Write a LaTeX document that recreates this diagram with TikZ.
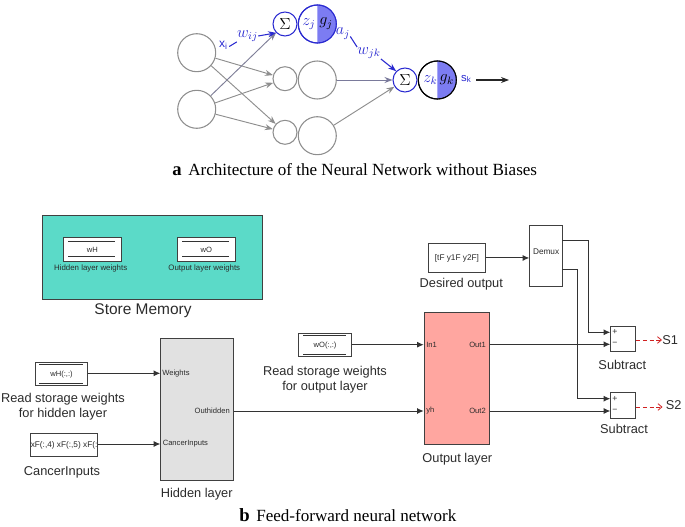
\documentclass[tikz,border=0pt]{standalone}
\usepackage{fontspec}
\setmainfont{Liberation Sans}
\newfontfamily\capfont{Liberation Serif}
\usetikzlibrary{arrows.meta}
\definecolor{netblue}{HTML}{2A2AD0}
\definecolor{halfblue}{HTML}{7C7CF2}
\definecolor{netgrey}{HTML}{8E8E8E}
\definecolor{teal}{HTML}{5BDAC8}
\definecolor{salmon}{HTML}{FFA6A0}
\definecolor{greyblock}{HTML}{E1E1E1}
\definecolor{txt}{HTML}{2B2B2B}
\definecolor{dred}{HTML}{D02020}
\tikzset{
  x=0.75pt,y=-0.75pt,
  neuron/.style={circle,draw=netgrey,line width=0.8pt,fill=white,inner sep=0,minimum size=38*0.75pt},
  summer/.style={circle,draw=netgrey,line width=0.8pt,fill=white,inner sep=0,minimum size=24*0.75pt,font=\large},
  synapse/.style={draw=netgrey,line width=0.7pt,-{Stealth[length=6pt,width=4.5pt]}},
  bluearrow/.style={draw=netblue,line width=0.8pt,-{Stealth[length=6pt,width=4.5pt]}},
  bluelab/.style={text=netblue,inner sep=0},
  mathlab/.style={font=\fontsize{11.5}{13}\selectfont},
  block/.style={draw=black!75,line width=0.7pt,inner sep=0,anchor=north west},
  wire/.style={draw=black!80,line width=0.7pt},
  sig/.style={wire,-{Latex[length=5pt,width=4.5pt]}},
  tiny/.style={font=\fontsize{5.7}{6.5}\selectfont,text=txt,inner sep=0},
  lab/.style={font=\fontsize{9.6}{11.5}\selectfont,text=txt,inner sep=0,align=center},
  caption/.style={font=\capfont\fontsize{12.8}{14}\selectfont,text=black,inner sep=0,anchor=west},
}
\begin{document}
\begin{tikzpicture}
\useasboundingbox (0,0) rectangle (685,527);
% ---- part a
\node[neuron] (i1) at (196.7,52.7) {};
\node[neuron] (i2) at (196.7,109.3) {};
\node[summer,draw=netblue] (s1) at (285,24) {$\Sigma$};
\node[neuron,draw=netblue] (g1) at (317.3,24) {};
\node[summer] (s2) at (285,78.7) {};
\node[neuron] (g2) at (317.3,80) {};
\node[summer] (s3) at (285,132.3) {};
\node[neuron] (g3) at (317.3,135.7) {};
\node[summer,draw=netblue] (s4) at (405,80) {$\Sigma$};
\node[neuron,draw=black] (g4) at (437.3,80) {};
\fill[halfblue] (g1.north) arc (-90:90:19) -- cycle;
\draw[netblue,line width=0.8pt] (g1) circle (19);
\fill[halfblue] (g4.north) arc (-90:90:19) -- cycle;
\draw[black,line width=0.8pt] (g4) circle (19);
\node[bluelab,mathlab] at (309,24) {$z_j$};
\node[mathlab,inner sep=0] at (326,23.5) {$g_j$};
\node[bluelab,mathlab] at (430.5,80) {$z_k$};
\node[mathlab,inner sep=0] at (446.7,80) {$g_k$};
\draw[synapse] (i1) -- (s2);
\draw[synapse] (i1) -- (s3);
\draw[synapse,draw=netgrey!85!netblue] (i2) -- (s1);
\draw[synapse] (i2) -- (s2);
\draw[synapse] (i2) -- (s3);
\draw[synapse,draw=netgrey!80!netblue] (g2) -- (s4);
\draw[synapse] (g3) -- (s4);
\node[bluelab,font=\fontsize{9}{10}\selectfont] (xi) at (223,45.5) {x\raisebox{-1pt}{\fontsize{6.5}{7}\selectfont i}};
\node[bluelab,mathlab] (wij) at (247.5,36) {$w_{ij}$};
\node[bluelab,mathlab] (aj) at (343,33.5) {$a_j$};
\node[bluelab,mathlab] (wjk) at (369,53) {$w_{jk}$};
\node[bluelab,font=\fontsize{8.5}{10}\selectfont] (sk) at (466,79) {s\raisebox{-0.5pt}{\fontsize{6}{7}\selectfont k}};
\coordinate (skend) at (509,80);
\draw[netblue,line width=0.8pt] (xi.east) ++(2,1) -- (wij.south west);
\draw[bluearrow] (wij.east) -- (s1.south west);
\draw[netblue,line width=0.8pt] (aj.east) ++(0,3) -- (wjk.north west);
\draw[bluearrow] (wjk.south east) -- (s4.north west);
\draw[line width=0.8pt,draw=black!85,-{Stealth[length=6pt,width=4.5pt]}] (sk.east) ++(5,1) -- (skend);
\node[caption] at (172,170) {\textbf{\fontsize{14}{14}\selectfont a}\hspace{5pt}Architecture of the Neural Network without Biases};
% ---- store memory
\node[block,fill=teal,minimum width=219.4*0.75pt,minimum height=84.3*0.75pt] (store) at (42.3,215) {};
\node[block,fill=white,minimum width=58.6*0.75pt,minimum height=24.6*0.75pt,tiny] (wH) at (62.7,236.7) {wH};
\node[block,fill=white,minimum width=58.3*0.75pt,minimum height=24.6*0.75pt,tiny] (wO) at (176.7,236.7) {wO};
\draw[wire] (68,241.3) -- (115,241.3) (68,256.3) -- (115,256.3);
\draw[wire] (182,241.3) -- (229,241.3) (182,256.3) -- (229,256.3);
\node[tiny,font=\fontsize{5.9}{6.5}\selectfont] at (90.7,268.3) {Hidden layer weights};
\node[tiny,font=\fontsize{5.9}{6.5}\selectfont] at (204.3,268.3) {Output layer weights};
\node[lab,font=\fontsize{11.6}{13}\selectfont] at (143,311) {Store Memory};
% ---- blocks
\node[block,fill=greyblock,minimum width=73*0.75pt,minimum height=141.7*0.75pt] (hid) at (160.3,338.3) {};
\node[block,fill=salmon,minimum width=65.3*0.75pt,minimum height=132.6*0.75pt] (out) at (423.7,311.7) {};
\node[block,fill=white,minimum width=52.6*0.75pt,minimum height=23.4*0.75pt,tiny] (rH) at (34.7,362) {wH(:,:)};
\draw[wire] (39,364.4) -- (83,364.4) (39,383) -- (83,383);
\node[block,fill=white,minimum width=65.4*0.75pt,minimum height=23.6*0.75pt,tiny,font=\fontsize{6.2}{7}\selectfont] (cin) at (30.3,432.7) {xF(:,4) xF(:,5) xF(:};
\node[block,fill=white,minimum width=52.7*0.75pt,minimum height=23*0.75pt,tiny] (rO) at (298.3,333.3) {wO(:,:)};
\draw[wire] (303,335.5) -- (346,335.5) (303,354.2) -- (346,354.2);
\node[block,fill=white,minimum width=57*0.75pt,minimum height=29.6*0.75pt,tiny,font=\fontsize{6.2}{7}\selectfont] (des) at (428,242.7) {[tF y1F y2F]};
\node[block,fill=white,minimum width=32.7*0.75pt,minimum height=60.4*0.75pt,tiny,font=\fontsize{6.2}{7}\selectfont] (dem) at (529.3,225.3) {\raisebox{7pt}{Demux}};
\node[block,fill=white,minimum width=25*0.75pt,minimum height=25.6*0.75pt] (sub1) at (610.3,325.7) {};
\node[block,fill=white,minimum width=25*0.75pt,minimum height=25.4*0.75pt] (sub2) at (610.3,392.3) {};
% ---- ports
\node[tiny,anchor=west] (pW) at (162,373.3) {Weights};
\node[tiny,anchor=west] (pC) at (162.5,444) {CancerInputs};
\node[tiny,anchor=east] (pO) at (230,411) {Outhidden};
\node[tiny,anchor=west] (pI) at (426,344.7) {In1};
\node[tiny,anchor=west] (pY) at (426,411) {yh};
\node[tiny,anchor=east] (pA) at (486,344.7) {Out1};
\node[tiny,anchor=east] (pB) at (486,411) {Out2};
\node[tiny,font=\fontsize{6.5}{7}\selectfont] (p1) at (615,332.3) {+};
\node[tiny,font=\fontsize{6.5}{7}\selectfont] (m1) at (615,344.3) {−};
\node[tiny,font=\fontsize{6.5}{7}\selectfont] (p2) at (615,398.7) {+};
\node[tiny,font=\fontsize{6.5}{7}\selectfont] (m2) at (615,411) {−};
% ---- connectors
\coordinate (hidin1) at (hid.west |- pW);
\coordinate (hidin2) at (hid.west |- pC);
\coordinate (outin1) at (out.west |- pI);
\coordinate (outin2) at (out.west |- pY);
\draw[sig] (rH.east |- pW) -- (hidin1);
\draw[sig] (cin.east |- pC) -- (hidin2);
\draw[sig] (hid.east |- pO) -- (outin2);
\draw[sig] (rO.east |- pI) -- (outin1);
\draw[sig] (des.east) -- (des.east -| dem.west);
\draw[sig] (out.east |- m1) -- (sub1.west |- m1);
\draw[sig] (out.east |- m2) -- (sub2.west |- m2);
\coordinate (d1) at (562,240.7);
\coordinate (d2) at (562,269.7);
\draw[sig] (d1) -| (588.3,332.3) -- (sub1.west |- p1);
\draw[sig] (d2) -| (577.3,398.7) -- (sub2.west |- p2);
\node[lab,anchor=west] (S1) at (662,340) {S1};
\node[lab,anchor=west] (S2) at (665.5,405.5) {S2};
\draw[dred,densely dashed,line width=0.6pt,-{Straight Barb[length=3pt,width=5pt]}] (sub1.east |- S1) -- (S1.west);
\coordinate (s2end) at (662.5,407);
\draw[dred,densely dashed,line width=0.6pt,-{Straight Barb[length=3pt,width=5pt]}] (sub2.east |- s2end) -- (s2end);
% ---- labels
\node[lab] at (325,380) {Read storage weights\\for output layer};
\node[lab] at (63,406.5) {Read storage weights\\for hidden layer};
\node[lab] at (62,472.7) {CancerInputs};
\node[lab] at (196.7,494) {Hidden layer};
\node[lab] at (457.3,458.7) {Output layer};
\node[lab] at (461.3,284) {Desired output};
\node[lab] at (622.3,365.3) {Subtract};
\node[lab] at (624,428.7) {Subtract};
\node[caption] at (239,515) {\textbf{\fontsize{14}{14}\selectfont b}\hspace{5pt}Feed-forward neural network};
\end{tikzpicture}
\end{document}
